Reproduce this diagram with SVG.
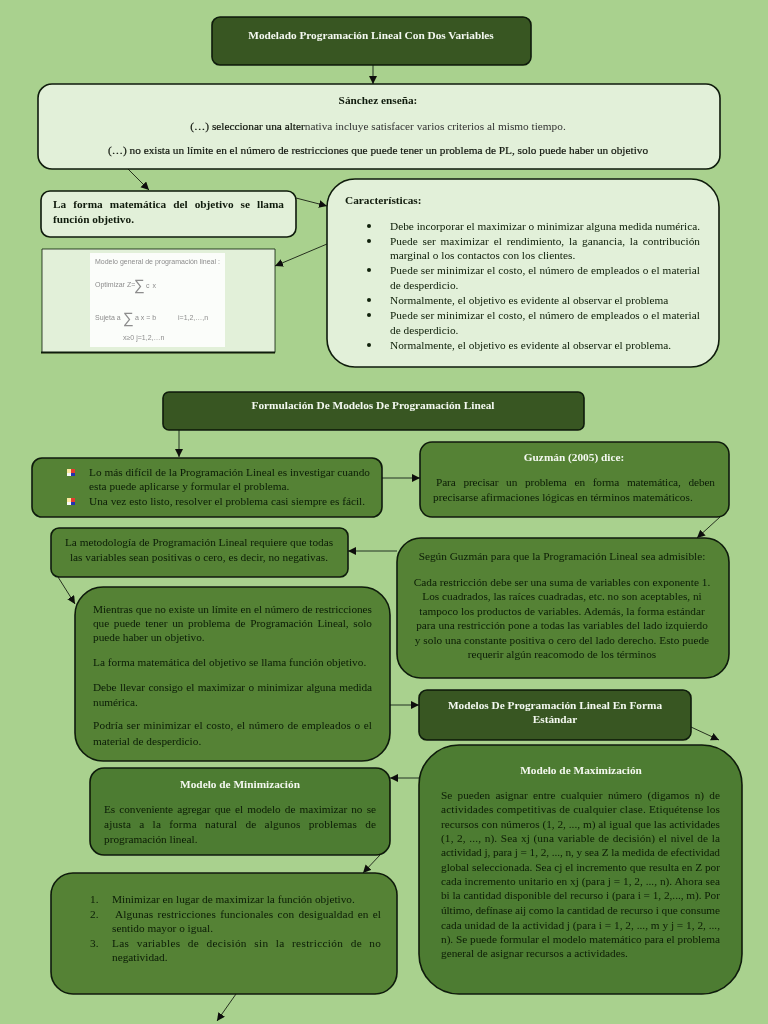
<svg xmlns="http://www.w3.org/2000/svg" width="768" height="1024" viewBox="0 0 768 1024">
<defs>
<marker id="arr" markerUnits="userSpaceOnUse" markerWidth="9" markerHeight="9" refX="8" refY="4" orient="auto"><path d="M0,0 L8,4 L0,8 Z" fill="#0b0f08"/></marker>
<filter id="soft" filterUnits="userSpaceOnUse" x="0" y="0" width="768" height="1024"><feGaussianBlur stdDeviation="0.35"/></filter>
</defs>
<style>
text{font-family:"Liberation Serif","Times New Roman",serif;font-size:11.3px;fill:#0c1c06}
.b{stroke:#0f1a0a;stroke-width:1.6}
.dark{fill:#385723}.light{fill:#E2F0D9}.mid{fill:#548235}.midd{fill:#4D7C30}
.w{fill:#f4f8f0;font-weight:bold}
.h{font-weight:bold}
.c{text-anchor:middle}
.k{fill:#111a0c}
.img{fill:#8d8d8d;font-family:"Liberation Sans",sans-serif;font-size:7px}
#connectors line{stroke:#26301f;stroke-width:1;marker-end:url(#arr)}
</style>
<rect width="768" height="1024" fill="#A9D18E"/>
<g filter="url(#soft)">
<g id="connectors">
<line x1="373" y1="65" x2="373" y2="84"/>
<line x1="128" y1="169" x2="149" y2="190"/>
<line x1="296" y1="198" x2="327" y2="206"/>
<line x1="327" y1="244" x2="275" y2="266"/>
<line x1="179" y1="430" x2="179" y2="457"/>
<line x1="382" y1="478" x2="420" y2="478"/>
<line x1="720" y1="517" x2="697" y2="538"/>
<line x1="397" y1="551" x2="348" y2="551"/>
<line x1="58" y1="577" x2="75" y2="604"/>
<line x1="390" y1="705" x2="419" y2="705"/>
<line x1="691" y1="727" x2="719" y2="740"/>
<line x1="419" y1="778" x2="390" y2="778"/>
<line x1="380" y1="855" x2="363" y2="873"/>
<line x1="236" y1="994" x2="217" y2="1021"/>
</g>
<g id="n-title">
<rect class="b dark" x="212" y="17" width="319" height="48" rx="8"/>
<text class="w c" x="371" y="39">Modelado Programación Lineal Con Dos Variables</text>
</g>
<g id="n-sanchez">
<rect class="b light" x="38" y="84" width="682" height="85" rx="14"/>
<text class="h c k" x="378" y="104">Sánchez enseña:</text>
<text class="c" x="378" y="129.5" style="fill:#333"><tspan class="k" stroke="#111" stroke-width="0.2">(…) seleccionar una alter</tspan>nativa incluye satisfacer varios criterios al mismo tiempo.</text>
<text class="c k" x="378" y="154" stroke="#111" stroke-width="0.2">(…) no exista un límite en el número de restricciones que puede tener un problema de PL, solo puede haber un objetivo</text>
</g>
<g id="n-forma">
<rect class="b light" x="41" y="191" width="255" height="46" rx="9"/>
<text class="h k" x="53" y="208" textLength="231" word-spacing="4.2">La forma matemática del objetivo se llama</text>
<text class="h k" x="53" y="223">función objetivo.</text>
</g>
<g id="n-modelo">
<rect class="light" x="42" y="249" width="233" height="103"/>
<path d="M42,249 H275 V352.5 H42 Z" fill="none" stroke="#0f1a0a" stroke-width="0.8"/>
<path d="M41,352.5 H275" stroke="#0f1a0a" stroke-width="2"/>
<rect x="90" y="253" width="135" height="94" fill="#fbfdfa"/>
<text class="img" x="95" y="264">Modelo general de programación lineal :</text>
<text class="img" x="95" y="287">Optimizar Z=</text>
<text class="img" x="134" y="290" style="font-size:15px">∑</text>
<text class="img" x="146" y="288">c<tspan dx="3">x</tspan></text>
<text class="img" x="95" y="320">Sujeta a</text>
<text class="img" x="123" y="323" style="font-size:15px">∑</text>
<text class="img" x="135" y="320">a x = b</text>
<text class="img" x="178" y="320">i=1,2,…,n</text>
<text class="img" x="123" y="340">x≥0 j=1,2,…n</text>
</g>
<g id="n-caracteristicas">
<rect class="b light" x="327" y="179" width="392" height="188" rx="28"/>
<text class="h k" x="345" y="204">Características:</text>
<g fill="#10200a"><circle cx="369" cy="226" r="2"/><circle cx="369" cy="241" r="2"/><circle cx="369" cy="270" r="2"/><circle cx="369" cy="300" r="2"/><circle cx="369" cy="315" r="2"/><circle cx="369" cy="345" r="2"/></g>
<text x="390" y="229.5" textLength="310">Debe incorporar el maximizar o minimizar alguna medida numérica.</text>
<text x="390" y="245" textLength="310" word-spacing="2">Puede ser maximizar el rendimiento, la ganancia, la contribución</text>
<text x="390" y="258.5">marginal o los contactos con los clientes.</text>
<text x="390" y="273.5" textLength="310">Puede ser minimizar el costo, el número de empleados o el material</text>
<text x="390" y="288.5">de desperdicio.</text>
<text x="390" y="304">Normalmente, el objetivo es evidente al observar el problema</text>
<text x="390" y="319" textLength="310">Puede ser minimizar el costo, el número de empleados o el material</text>
<text x="390" y="334">de desperdicio.</text>
<text x="390" y="349">Normalmente, el objetivo es evidente al observar el problema.</text>
</g>
<g id="n-formulacion">
<rect class="b dark" x="163" y="392" width="421" height="38" rx="6"/>
<text class="w c" x="373" y="409">Formulación De Modelos De Programación Lineal</text>
</g>
<g id="n-dificil">
<rect class="b mid" x="32" y="458" width="350" height="59" rx="10"/>
<g><rect x="67" y="469" width="4" height="4" fill="#fbe9a0"/><rect x="71" y="469" width="4" height="4" fill="#e23b2e"/><rect x="67" y="473" width="4" height="3" fill="#f7f7f7"/><rect x="71" y="473" width="4" height="3" fill="#2230b0"/></g>
<g><rect x="67" y="498" width="4" height="4" fill="#fbe9a0"/><rect x="71" y="498" width="4" height="4" fill="#e23b2e"/><rect x="67" y="502" width="4" height="3" fill="#f7f7f7"/><rect x="71" y="502" width="4" height="3" fill="#2230b0"/></g>
<text x="89" y="475.5" textLength="281">Lo más difícil de la Programación Lineal es investigar cuando</text>
<text x="89" y="490">esta puede aplicarse y formular el problema.</text>
<text x="89" y="504.5">Una vez esto listo, resolver el problema casi siempre es fácil.</text>
</g>
<g id="n-guzman">
<rect class="b mid" x="420" y="442" width="309" height="75" rx="12"/>
<text class="w c" x="574" y="461">Guzmán (2005) dice:</text>
<text x="436" y="486" textLength="279" word-spacing="5">Para precisar un problema en forma matemática, deben</text>
<text x="433" y="500.5">precisarse afirmaciones lógicas en términos matemáticos.</text>
</g>
<g id="n-metodologia">
<rect class="b mid" x="51" y="528" width="297" height="49" rx="8"/>
<text class="c" x="199" y="546">La metodología de Programación Lineal requiere que todas</text>
<text class="c" x="199" y="561">las variables sean positivas o cero, es decir, no negativas.</text>
</g>
<g id="n-segun">
<rect class="b mid" x="397" y="538" width="332" height="140" rx="24"/>
<text class="c" x="562" y="560">Según Guzmán para que la Programación Lineal sea admisible:</text>
<text class="c" x="562" y="585.5">Cada restricción debe ser una suma de variables con exponente 1.</text>
<text class="c" x="562" y="600">Los cuadrados, las raíces cuadradas, etc. no son aceptables, ni</text>
<text class="c" x="562" y="614.5">tampoco los productos de variables. Además, la forma estándar</text>
<text class="c" x="562" y="629">para una restricción pone a todas las variables del lado izquierdo</text>
<text class="c" x="562" y="643.5">y solo una constante positiva o cero del lado derecho. Esto puede</text>
<text class="c" x="562" y="657.5">requerir algún reacomodo de los términos</text>
</g>
<g id="n-mientras">
<rect class="b mid" x="75" y="587" width="315" height="174" rx="28"/>
<text x="93" y="612.5" textLength="279">Mientras que no existe un límite en el número de restricciones</text>
<text x="93" y="627" textLength="279" word-spacing="2">que puede tener un problema de Programación Lineal, solo</text>
<text x="93" y="641">puede haber un objetivo.</text>
<text x="93" y="666">La forma matemática del objetivo se llama función objetivo.</text>
<text x="93" y="691" textLength="279" word-spacing="0.8">Debe llevar consigo el maximizar o minimizar alguna medida</text>
<text x="93" y="705.5">numérica.</text>
<text x="93" y="729" textLength="279" word-spacing="0.6">Podría ser minimizar el costo, el número de empleados o el</text>
<text x="93" y="744.5">material de desperdicio.</text>
</g>
<g id="n-estandar">
<rect class="b dark" x="419" y="690" width="272" height="50" rx="8"/>
<text class="w c" x="555" y="708.5">Modelos De Programación Lineal En Forma</text>
<text class="w c" x="555" y="723">Estándar</text>
</g>
<g id="n-minimizacion">
<rect class="b midd" x="90" y="768" width="300" height="87" rx="14"/>
<text class="w c" x="240" y="788">Modelo de Minimización</text>
<text x="104" y="813" textLength="272" word-spacing="1.5">Es conveniente agregar que el modelo de maximizar no se</text>
<text x="104" y="828" textLength="272" word-spacing="5.2">ajusta a la forma natural de algunos problemas de</text>
<text x="104" y="842.5">programación lineal.</text>
</g>
<g id="n-maximizacion">
<rect class="b midd" x="419" y="745" width="323" height="249" rx="40"/>
<text class="w c" x="581" y="773.5">Modelo de Maximización</text>
<text x="441" y="798.5" textLength="279" word-spacing="2.6">Se pueden asignar entre cualquier número (digamos n) de</text>
<text x="441" y="813" textLength="279">actividades competitivas de cualquier clase. Etiquétense los</text>
<text x="441" y="827.5" textLength="279">recursos con números (1, 2, ..., m) al igual que las actividades</text>
<text x="441" y="842" textLength="279" word-spacing="0.6">(1, 2, ..., n). Sea xj (una variable de decisión) el nivel de la</text>
<text x="441" y="856" textLength="279">actividad j, para j = 1, 2, ..., n, y sea Z la medida de efectividad</text>
<text x="441" y="870.5" textLength="279">global seleccionada. Sea cj el incremento que resulta en Z por</text>
<text x="441" y="885" textLength="279">cada incremento unitario en xj (para j = 1, 2, ..., n). Ahora sea</text>
<text x="441" y="899" textLength="279">bi la cantidad disponible del recurso i (para i = 1, 2,..., m). Por</text>
<text x="441" y="913.5" textLength="279">último, defínase aij como la cantidad de recurso i que consume</text>
<text x="441" y="928.5" textLength="279">cada unidad de la actividad j (para i = 1, 2, ..., m y j = 1, 2, ...,</text>
<text x="441" y="942.5" textLength="279">n). Se puede formular el modelo matemático para el problema</text>
<text x="441" y="957">general de asignar recursos a actividades.</text>
</g>
<g id="n-lista">
<rect class="b mid" x="51" y="873" width="346" height="121" rx="22"/>
<text x="90" y="902.5">1.</text>
<text x="112" y="902.5">Minimizar en lugar de maximizar la función objetivo.</text>
<text x="90" y="917.5">2.</text>
<text x="115" y="917.5" textLength="266" word-spacing="1.3">Algunas restricciones funcionales con desigualdad en el</text>
<text x="112" y="932">sentido mayor o igual.</text>
<text x="90" y="946.5">3.</text>
<text x="112" y="946.5" textLength="269" word-spacing="4.2">Las variables de decisión sin la restricción de no</text>
<text x="112" y="961">negatividad.</text>
</g>
</g>
</svg>
